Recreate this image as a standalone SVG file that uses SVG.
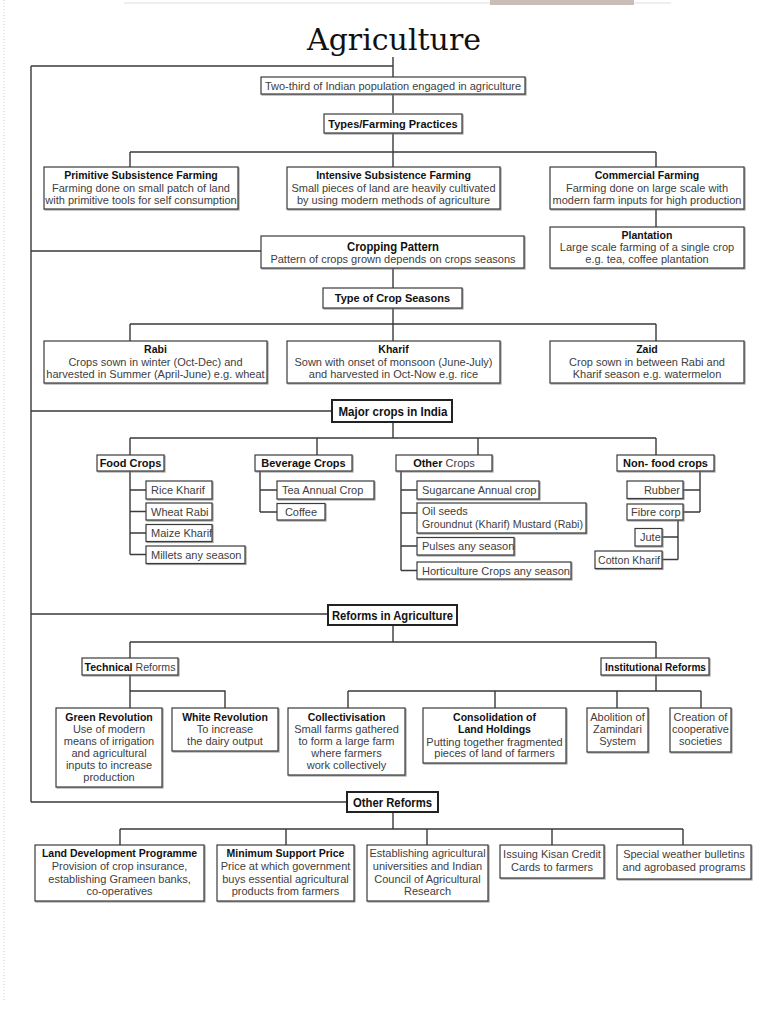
<svg xmlns="http://www.w3.org/2000/svg" width="768" height="1024" viewBox="0 0 768 1024">
<defs>
<filter id="sh" x="-5%" y="-5%" width="110%" height="120%"><feDropShadow dx="1" dy="1" stdDeviation="0.3" flood-color="#777" flood-opacity="0.7"/></filter>
<style>
.box{fill:#fff;stroke:#3a3a3a;stroke-width:1.2;filter:url(#sh)}
.hbox{fill:#fff;stroke:#222;stroke-width:2}
.ln{stroke:#3a3a3a;stroke-width:1.4;fill:none}
text{font-family:"Liberation Sans",Arial,sans-serif;font-size:11px;fill:#404040}
.b{font-weight:bold;fill:#111;font-size:10.5px}
.b11{font-weight:bold;fill:#111;font-size:11px}
.h{font-weight:bold;fill:#111;font-size:12.5px}
.c{text-anchor:middle}
.title{font-family:"DejaVu Serif","Liberation Serif",serif;font-size:30px;fill:#111}
</style>
</defs>
<rect width="768" height="1024" fill="#fff"/>
<line x1="4" y1="0" x2="4" y2="1000" stroke="#e6c8c8" stroke-width="1" stroke-dasharray="1 2"/>
<line x1="124" y1="3" x2="671" y2="3" stroke="#ddd" stroke-width="1"/>
<rect x="490" y="0" width="144" height="5" fill="#c9bdb8"/>
<text class="title c" x="394" y="50">Agriculture</text>

<g id="connectors" class="ln">
<path d="M393 57V77M31 66H393M31 66V802M393 94V113M393 133V167M130 152H656M130 152V167M656 152V167M656 209V227"/>
<path d="M31 251H261M393 268V288M393 308V341M130 324H656M130 324V341M656 324V341"/>
<path d="M31 411H332M393 422V438M130 438H656M130 438V455M317 438V455M478 438V455M656 438V455"/>
<path d="M130 471V554.5M130 490H146M130 511.5H146M130 533H146M130 554.5H146"/>
<path d="M260 471V512M260 490H277M260 512H277"/>
<path d="M401 471V570.5M401 490H417M401 513H417M401 546H417M401 570.5H417"/>
<path d="M700 471V512M683 490H700M683 512H700M678 520V559.5M662 537H678M662 559.5H678"/>
<path d="M31 614H328M393 625V642M130 642H656M130 642V658M656 642V658M130 675V708M130 691H225V708M656 675V691M348 691H701M348 691V708M495 691V708M617 691V708M701 691V708"/>
<path d="M31 802H347M393 812V829M120 829H683M120 829V845M286 829V845M427 829V845M552 829V845M683 829V845"/>
</g>

<g id="n-twothird"><rect class="box" x="261" y="77" width="264" height="17"/><text class="c" x="393" y="89.5">Two-third of Indian population engaged in agriculture</text></g>
<g id="n-types"><rect class="box" x="324" y="114" width="138" height="19"/><text class="b11 c" x="393" y="127.5">Types/Farming Practices</text></g>

<g id="n-primitive"><rect class="box" x="44" y="167" width="194" height="42"/><text class="b c" x="141" y="178.5">Primitive Subsistence Farming</text><text class="c" x="141" y="191.5">Farming done on small patch of land</text><text class="c" x="141" y="203.5">with primitive tools for self consumption</text></g>
<g id="n-intensive"><rect class="box" x="287" y="167" width="213" height="42"/><text class="b c" x="393.5" y="178.5">Intensive Subsistence Farming</text><text class="c" x="393.5" y="191.5">Small pieces of land are heavily cultivated</text><text class="c" x="393.5" y="203.5">by using modern methods of agriculture</text></g>
<g id="n-commercial"><rect class="box" x="550" y="167" width="194" height="42"/><text class="b c" x="647" y="178.5">Commercial Farming</text><text class="c" x="647" y="191.5">Farming done on large scale with</text><text class="c" x="647" y="203.5">modern farm inputs for high production</text></g>
<g id="n-plantation"><rect class="box" x="550" y="227" width="194" height="41"/><text class="b c" x="647" y="239">Plantation</text><text class="c" x="647" y="251">Large scale farming of a single crop</text><text class="c" x="647" y="263">e.g. tea, coffee plantation</text></g>

<g id="n-cropping"><rect class="box" x="261" y="236" width="263" height="32"/><text class="h c" x="393" y="250.5" textLength="92" lengthAdjust="spacingAndGlyphs">Cropping Pattern</text><text class="c" x="393" y="263">Pattern of crops grown depends on crops seasons</text></g>
<g id="n-seasons"><rect class="box" x="323" y="288" width="139" height="20"/><text class="b11 c" x="392.5" y="302">Type of Crop Seasons</text></g>

<g id="n-rabi"><rect class="box" x="44" y="341" width="223" height="42"/><text class="b c" x="155.5" y="353">Rabi</text><text class="c" x="155.5" y="365.5">Crops sown in winter (Oct-Dec) and</text><text class="c" x="155.5" y="377.5">harvested in Summer (April-June) e.g. wheat</text></g>
<g id="n-kharif"><rect class="box" x="287" y="341" width="213" height="42"/><text class="b c" x="393.5" y="353">Kharif</text><text class="c" x="393.5" y="365.5">Sown with onset of monsoon (June-July)</text><text class="c" x="393.5" y="377.5">and harvested in Oct-Now e.g. rice</text></g>
<g id="n-zaid"><rect class="box" x="550" y="341" width="194" height="42"/><text class="b c" x="647" y="353">Zaid</text><text class="c" x="647" y="365.5">Crop sown in between Rabi and</text><text class="c" x="647" y="377.5">Kharif season e.g. watermelon</text></g>

<g id="n-major"><rect class="hbox" x="332" y="400" width="120" height="22"/><text class="h c" x="393" y="415.5" textLength="109" lengthAdjust="spacingAndGlyphs">Major crops in India</text></g>

<g id="n-food"><rect class="box" x="97" y="455" width="67" height="16"/><text class="b11 c" x="130.5" y="467">Food Crops</text></g>
<g id="n-beverage"><rect class="box" x="255" y="455" width="97" height="16"/><text class="b11 c" x="303.5" y="467">Beverage Crops</text></g>
<g id="n-other"><rect class="box" x="396" y="455" width="96" height="16"/><text class="c" x="444" y="467"><tspan style="font-weight:bold;fill:#111">Other</tspan> Crops</text></g>
<g id="n-nonfood"><rect class="box" x="617" y="455" width="97" height="16"/><text class="b11 c" x="665.5" y="467">Non- food crops</text></g>

<g id="n-rice"><rect class="box" x="146" y="481" width="66" height="18"/><text x="151" y="494">Rice Kharif</text></g>
<g id="n-wheat"><rect class="box" x="146" y="503" width="66" height="17"/><text x="151" y="515.5">Wheat Rabi</text></g>
<g id="n-maize"><rect class="box" x="146" y="524.5" width="66" height="17"/><text x="151" y="537">Maize Kharif</text></g>
<g id="n-millets"><rect class="box" x="146" y="546" width="99" height="17.5"/><text x="151" y="558.5">Millets any season</text></g>

<g id="n-tea"><rect class="box" x="277" y="481" width="97" height="18"/><text x="282" y="494">Tea Annual Crop</text></g>
<g id="n-coffee"><rect class="box" x="277" y="503.5" width="48" height="16.5"/><text class="c" x="301" y="516">Coffee</text></g>

<g id="n-sugarcane"><rect class="box" x="417" y="481" width="122" height="18"/><text x="422" y="494">Sugarcane Annual crop</text></g>
<g id="n-oilseeds"><rect class="box" x="417" y="503" width="169" height="30"/><text x="422" y="515">Oil seeds</text><text x="422" y="528" textLength="161" lengthAdjust="spacingAndGlyphs">Groundnut (Kharif) Mustard (Rabi)</text></g>
<g id="n-pulses"><rect class="box" x="417" y="537.5" width="97" height="17.5"/><text x="422" y="550">Pulses any season</text></g>
<g id="n-horti"><rect class="box" x="417" y="562" width="154" height="17"/><text x="422" y="574.5">Horticulture Crops any season</text></g>

<g id="n-rubber"><rect class="box" x="627" y="481" width="56" height="17.5"/><text x="680" y="494" style="text-anchor:end">Rubber</text></g>
<g id="n-fibre"><rect class="box" x="627" y="504" width="56" height="16"/><text x="631" y="516">Fibre corp</text></g>
<g id="n-jute"><rect class="box" x="635" y="528.5" width="27" height="17.5"/><text x="640" y="541">Jute</text></g>
<g id="n-cotton"><rect class="box" x="595" y="551" width="67" height="17.5"/><text x="598" y="563.5" textLength="62" lengthAdjust="spacingAndGlyphs">Cotton Kharif</text></g>

<g id="n-reforms"><rect class="hbox" x="328" y="605" width="129" height="20"/><text class="h c" x="392.5" y="619.5" textLength="121" lengthAdjust="spacingAndGlyphs">Reforms in Agriculture</text></g>
<g id="n-technical"><rect class="box" x="82" y="658" width="96" height="17"/><text class="c" x="130" y="670.5" textLength="91" lengthAdjust="spacingAndGlyphs"><tspan style="font-weight:bold;fill:#111">Technical</tspan> Reforms</text></g>
<g id="n-institutional"><rect class="box" x="601" y="658" width="108" height="17"/><text class="b11 c" x="655.5" y="670.5" textLength="101" lengthAdjust="spacingAndGlyphs">Institutional Reforms</text></g>

<g id="n-green"><rect class="box" x="56" y="708" width="106" height="79"/><text class="b c" x="109" y="720.5">Green Revolution</text><text class="c" x="109" y="732.5">Use of modern</text><text class="c" x="109" y="744.5">means of irrigation</text><text class="c" x="109" y="756.5">and agricultural</text><text class="c" x="109" y="768.5">inputs to increase</text><text class="c" x="109" y="780.5">production</text></g>
<g id="n-white"><rect class="box" x="172" y="708" width="106" height="43"/><text class="b c" x="225" y="720.5">White Revolution</text><text class="c" x="225" y="732.5">To increase</text><text class="c" x="225" y="744.5">the dairy output</text></g>
<g id="n-collect"><rect class="box" x="288" y="708" width="117" height="67"/><text class="b c" x="346.5" y="720.5">Collectivisation</text><text class="c" x="346.5" y="732.5">Small farms gathered</text><text class="c" x="346.5" y="744.5">to form a large farm</text><text class="c" x="346.5" y="756.5">where farmers</text><text class="c" x="346.5" y="769">work collectively</text></g>
<g id="n-consol"><rect class="box" x="423" y="708" width="143" height="55"/><text class="b c" x="494.5" y="720.5">Consolidation of</text><text class="b c" x="494.5" y="733">Land Holdings</text><text class="c" x="494.5" y="745.5">Putting together fragmented</text><text class="c" x="494.5" y="757">pieces of land of farmers</text></g>
<g id="n-abolition"><rect class="box" x="587" y="708" width="61" height="44"/><text class="c" x="617.5" y="720.5">Abolition of</text><text class="c" x="617.5" y="732.5">Zamindari</text><text class="c" x="617.5" y="745">System</text></g>
<g id="n-creation"><rect class="box" x="670" y="708" width="61" height="44"/><text class="c" x="700.5" y="720.5">Creation of</text><text class="c" x="700.5" y="732.5">cooperative</text><text class="c" x="700.5" y="745">societies</text></g>

<g id="n-otherreforms"><rect class="hbox" x="347" y="792" width="91" height="20"/><text class="h c" x="392.5" y="806.5" textLength="79" lengthAdjust="spacingAndGlyphs">Other Reforms</text></g>

<g id="n-ldp"><rect class="box" x="35" y="845" width="169" height="56"/><text class="b c" x="119.5" y="857">Land Development Programme</text><text class="c" x="119.5" y="870">Provision of crop insurance,</text><text class="c" x="119.5" y="882.5">establishing Grameen banks,</text><text class="c" x="119.5" y="895">co-operatives</text></g>
<g id="n-msp"><rect class="box" x="217" y="845" width="137" height="56"/><text class="b c" x="285.5" y="857">Minimum Support Price</text><text class="c" x="285.5" y="870">Price at which government</text><text class="c" x="285.5" y="882.5">buys essential agricultural</text><text class="c" x="285.5" y="895">products from farmers</text></g>
<g id="n-estab"><rect class="box" x="367" y="845" width="121" height="56"/><text class="c" x="427.5" y="857">Establishing agricultural</text><text class="c" x="427.5" y="870">universities and Indian</text><text class="c" x="427.5" y="882.5">Council of Agricultural</text><text class="c" x="427.5" y="895">Research</text></g>
<g id="n-kisan"><rect class="box" x="500" y="845" width="104" height="33"/><text class="c" x="552" y="858">Issuing Kisan Credit</text><text class="c" x="552" y="870.5">Cards to farmers</text></g>
<g id="n-weather"><rect class="box" x="617" y="845" width="134" height="34"/><text class="c" x="684" y="858">Special weather bulletins</text><text class="c" x="684" y="870.5">and agrobased programs</text></g>
</svg>
